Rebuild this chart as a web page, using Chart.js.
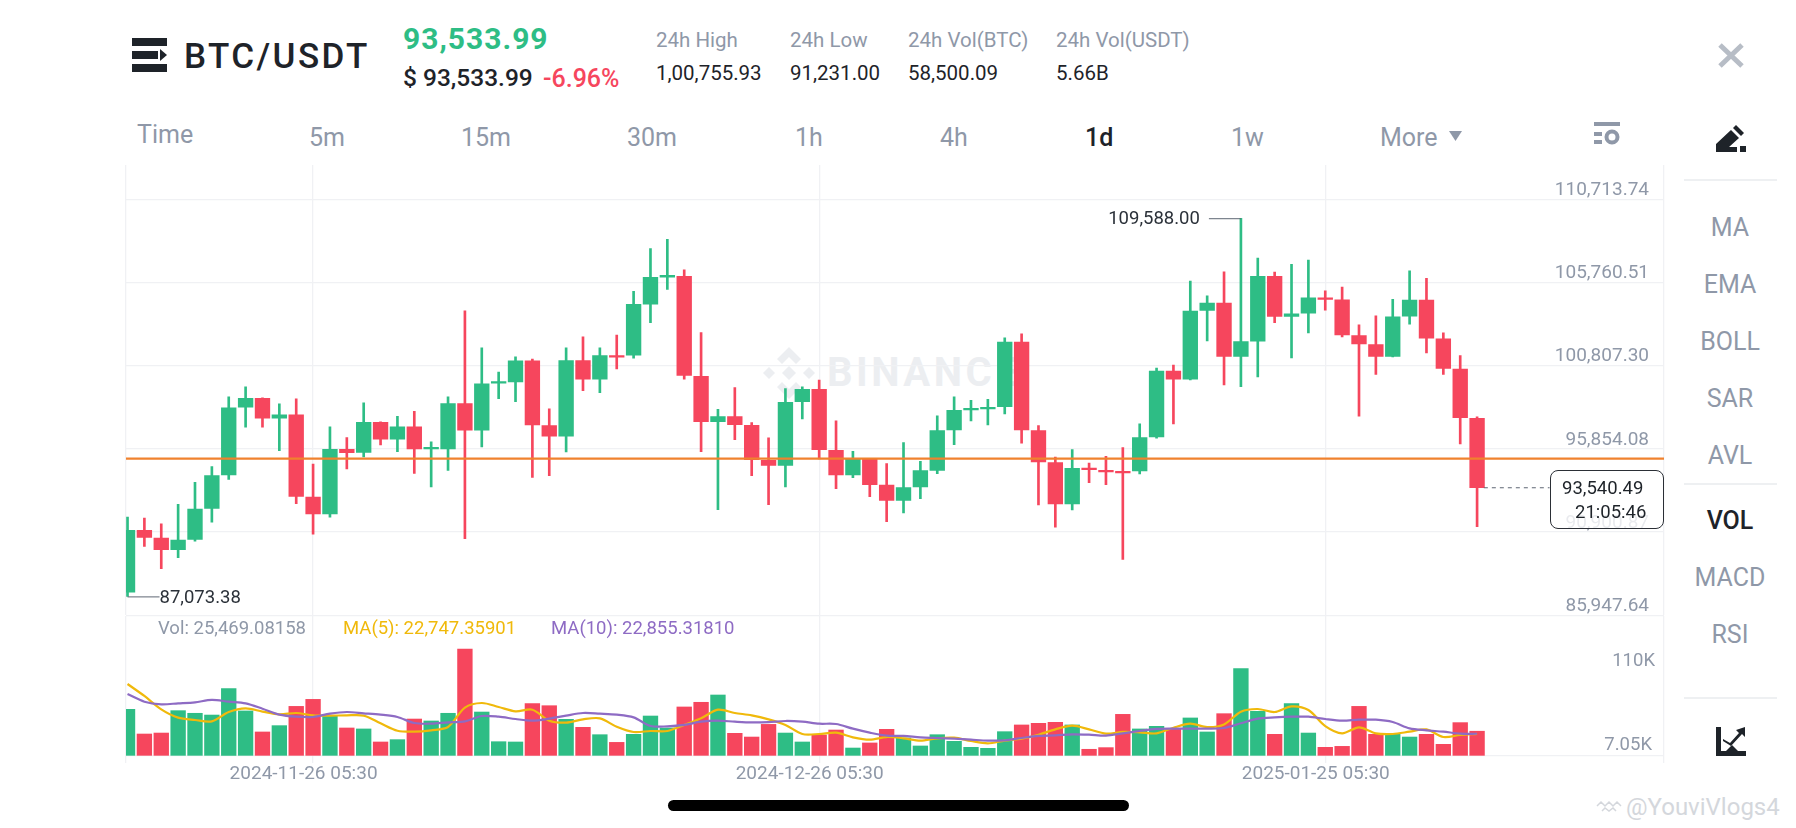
<!DOCTYPE html>
<html>
<head>
<meta charset="utf-8">
<title>BTC/USDT</title>
<script src="https://cdn.jsdelivr.net/npm/chart.js@4"></script>
<style>
  html, body { margin: 0; background: #fff; width: 1796px; height: 828px; overflow: hidden; font-family: Roboto, sans-serif; }
  .t { position: absolute; transform: translateY(-50%); white-space: nowrap; line-height: 1; }
  .g { color: #8f98a8; }
  .d { color: #1e2329; }
  .tf { font-size: 25px; color: #8f98a8; top: 137px; }
  .side { font-size: 25px; color: #8f98a8; left: 1730px; transform: translate(-50%, -50%); }
  .hr { position: absolute; left: 1684px; width: 93px; height: 2px; background: #eef0f2; }
  .lg { font-size: 18.500px; top: 628px; }
  .stat { font-size: 20.5px; }
  canvas { position: absolute; }
  #priceBox { position: absolute; left: 1550px; top: 470px; width: 112px; height: 57px; border: 1.5px solid #2b2f36; border-radius: 8px; background: rgba(255,255,255,.8); color: #1e2329; font-size: 18.500px; }
</style>
</head>
<body>

<!-- header -->
<svg style="position:absolute;left:132px;top:38px" width="36" height="34" viewBox="0 0 36 34" fill="#1e2329">
  <rect x="0" y="0" width="35" height="8"/><rect x="0" y="13" width="26" height="8"/><path d="M28 11l7 6-7 6z"/><rect x="0" y="26" width="35" height="8"/>
</svg>
<div class="t d" style="left:184px;top:56px;font-size:35px;font-weight:500;letter-spacing:2.4px">BTC/USDT</div>
<div class="t" style="left:403px;top:39px;font-size:30px;font-weight:700;color:#2ebd85;letter-spacing:1px">93,533.99</div>
<div class="t d" style="left:403px;top:78px;font-size:24.5px;font-weight:500">$ 93,533.99</div>
<div class="t" style="left:543px;top:78px;font-size:25px;font-weight:500;color:#f6465d">-6.96%</div>

<div class="t g stat" style="left:656px;top:40px">24h High</div>
<div class="t d stat" style="left:656px;top:73px">1,00,755.93</div>
<div class="t g stat" style="left:790px;top:40px">24h Low</div>
<div class="t d stat" style="left:790px;top:73px">91,231.00</div>
<div class="t g stat" style="left:908px;top:40px">24h Vol(BTC)</div>
<div class="t d stat" style="left:908px;top:73px">58,500.09</div>
<div class="t g stat" style="left:1056px;top:40px">24h Vol(USDT)</div>
<div class="t d stat" style="left:1056px;top:73px">5.66B</div>

<svg style="position:absolute;left:1717px;top:42px" width="28" height="27" viewBox="0 0 28 27"><path d="M3 3l22 21M25 3L3 24" stroke="#b7bdc6" stroke-width="5" fill="none"/></svg>

<!-- timeframe row -->
<div class="t tf" style="left:137px;top:134px">Time</div>
<div class="t tf" style="left:309px">5m</div>
<div class="t tf" style="left:461px">15m</div>
<div class="t tf" style="left:627px">30m</div>
<div class="t tf" style="left:795px">1h</div>
<div class="t tf" style="left:940px">4h</div>
<div class="t tf" style="left:1085px;color:#1e2329;font-weight:500">1d</div>
<div class="t tf" style="left:1231px">1w</div>
<div class="t tf" style="left:1380px">More</div>
<svg style="position:absolute;left:1449px;top:131px" width="13" height="10"><path d="M0 0h13L6.500 10z" fill="#8f98a8"/></svg>
<svg style="position:absolute;left:1594px;top:122px" width="26" height="24" viewBox="0 0 26 24" fill="#8f98a8">
  <rect width="26" height="4"/><rect y="10" width="8" height="4"/><rect y="18" width="8" height="4"/>
  <circle cx="18" cy="15" r="5.500" fill="none" stroke="#8f98a8" stroke-width="4"/>
</svg>

<!-- right tool column -->
<svg style="position:absolute;left:1716px;top:125px" width="30" height="27" viewBox="0 0 30 27" fill="#1e2329">
  <path d="M0 27V19L15 5l8 8-10 9h8v5z"/><path d="M17 3l3-3 8 8-3 3z"/><rect x="24" y="21" width="6" height="6"/>
</svg>
<div class="hr" style="top:179px"></div>
<div class="t side" style="top:227px">MA</div>
<div class="t side" style="top:284px">EMA</div>
<div class="t side" style="top:341px">BOLL</div>
<div class="t side" style="top:398px">SAR</div>
<div class="t side" style="top:455px">AVL</div>
<div class="hr" style="top:483px"></div>
<div class="t side" style="top:520px;color:#1e2329;font-weight:500">VOL</div>
<div class="t side" style="top:577px">MACD</div>
<div class="t side" style="top:634px">RSI</div>
<div class="hr" style="top:697px"></div>
<svg style="position:absolute;left:1716px;top:727px" width="30" height="29" viewBox="0 0 30 29" fill="#1e2329">
  <path d="M0 0h5v24h25v5H0z"/><path d="M7 12l7 4 9-10-3-3 9-3v10l-3-3-11 12-8-5z"/><path d="M10 24l6-6 6 6z"/>
</svg>

<!-- watermark, sits under the canvas -->
<svg style="position:absolute;left:763px;top:347px" width="52" height="52" viewBox="0 0 52 52" fill="#eceef1">
  <path d="M26 0l12 12-5 5-7-7-7 7-5-5z"/><path d="M26 52L14 40l5-5 7 7 7-7 5 5z"/>
  <path d="M0 26l6-6 6 6-6 6z"/><path d="M40 26l6-6 6 6-6 6z"/><path d="M26 19l7 7-7 7-7-7z"/>
</svg>
<div class="t" style="left:827px;top:373px;font-size:40px;font-weight:700;color:#eceef1;letter-spacing:3.500px">BINANCE</div>

<canvas id="priceChart" width="1552" height="460" style="left:120px;top:160px;width:1552px;height:460px"></canvas>
<canvas id="volChart" width="1552" height="175" style="left:120px;top:610px;width:1552px;height:175px"></canvas>

<div class="t lg g" style="left:158px">Vol: 25,469.08158</div>
<div class="t lg" style="left:343px;color:#f0b90b">MA(5): 22,747.35901</div>
<div class="t lg" style="left:551px;color:#8e6bc4">MA(10): 22,855.31810</div>

<div id="priceBox">
  <div class="t" style="left:11px;top:17px">93,540.49</div>
  <div class="t" style="left:24px;top:41px">21:05:46</div>
</div>

<!-- phone home bar and repost mark -->
<div style="position:absolute;left:668px;top:800px;width:461px;height:11px;border-radius:6px;background:#000"></div>
<svg style="position:absolute;left:1596px;top:798px" width="26" height="16" viewBox="0 0 26 16"><path d="M1 8l4-4 4 4 4-4 4 4 4-4 4 4M6 13l3-3 4 3 4-3 3 3" stroke="#d4d7dc" stroke-width="1.500" fill="none"/></svg>
<div class="t" style="left:1626px;top:807px;font-size:24px;color:#d4d7dc">@YouviVlogs4</div>

<script>
// one entry per daily candle
const dates = [
  '2024-11-15','2024-11-16','2024-11-17','2024-11-18','2024-11-19','2024-11-20','2024-11-21','2024-11-22','2024-11-23','2024-11-24',
  '2024-11-25','2024-11-26','2024-11-27','2024-11-28','2024-11-29','2024-11-30','2024-12-01','2024-12-02','2024-12-03','2024-12-04',
  '2024-12-05','2024-12-06','2024-12-07','2024-12-08','2024-12-09','2024-12-10','2024-12-11','2024-12-12','2024-12-13','2024-12-14',
  '2024-12-15','2024-12-16','2024-12-17','2024-12-18','2024-12-19','2024-12-20','2024-12-21','2024-12-22','2024-12-23','2024-12-24',
  '2024-12-25','2024-12-26','2024-12-27','2024-12-28','2024-12-29','2024-12-30','2024-12-31','2025-01-01','2025-01-02','2025-01-03',
  '2025-01-04','2025-01-05','2025-01-06','2025-01-07','2025-01-08','2025-01-09','2025-01-10','2025-01-11','2025-01-12','2025-01-13',
  '2025-01-14','2025-01-15','2025-01-16','2025-01-17','2025-01-18','2025-01-19','2025-01-20','2025-01-21','2025-01-22','2025-01-23',
  '2025-01-24','2025-01-25','2025-01-26','2025-01-27','2025-01-28','2025-01-29','2025-01-30','2025-01-31','2025-02-01','2025-02-02',
  '2025-02-03'
];
const opens = [
  87326,91002,90545,89850,90466,92314,94301,98334,98871,97679,
  97877,92989,91976,95831,95652,97440,96427,97162,95851,95851,
  98553,96963,99765,99845,101096,97242,96606,101116,100004,101414,
  101434,104474,106084,106123,100182,97480,97778,97261,95175,94877,
  98672,99407,95771,94301,95255,93705,92791,93585,94579,96983,
  98175,98235,98374,102209,96944,95036,92572,94718,94579,94519,
  94539,96566,100480,100004,104097,104534,101355,102269,106123,103739,
  103938,104852,104733,102606,102070,101355,103759,104713,102408,100600,
  97679
];
const closes = [
  91002,90585,89850,90426,92274,94261,98295,98871,97679,97877,
  93029,91976,95831,95632,97440,96427,97162,95851,95950,98553,
  96963,99725,99864,101096,97281,96606,101116,100004,101414,101315,
  104454,106064,106183,100222,97480,97778,97301,95215,94877,98632,
  99407,95811,94301,95255,93725,92791,93546,94559,96944,98156,
  98275,98334,102209,96983,95076,92572,94698,94619,94480,94420,
  96526,100480,100004,104057,104534,101355,102249,106123,103739,103898,
  104852,104752,102646,102110,101355,103719,104713,102448,100639,97718,
  93540.49
];
const highs = [
  91797,91738,91400,92552,93864,94798,98950,99546,98900,98533,
  98831,94957,97162,96526,98593,97470,97798,98096,96268,98950,
  104077,101871,100421,101335,101196,98235,101871,102527,101871,102626,
  105229,107773,108329,106521,102785,98215,99507,97420,96506,99447,
  99546,99944,97520,95712,95295,94976,96228,95115,97818,98950,
  98752,98811,102467,102706,97242,95374,95811,95016,95414,95930,
  97341,100659,100838,105845,104971,106402,109588,107216,106382,106839,
  107097,105269,105488,103242,103779,104752,106461,106004,102765,101414,
  97758
];
const lows = [
  87073.38,90049,88717,89373,90367,91499,94043,97142,97142,95751,
  92592,90784,91797,94658,95374,96089,95692,94400,93585,94579,
  90506,95970,98851,98672,94162,94261,95672,99328,99209,100619,
  101255,103362,105349,100004,95692,92234,96407,94261,92532,93585,
  97639,95255,93486,94142,93009,91519,92036,92890,94380,96109,
  97520,97281,97937,96188,92513,91201,92214,93844,93725,89274,
  94360,96487,97341,99964,102289,99666,99566,100143,103362,101275,
  102765,104117,102527,97798,100282,101335,103282,101573,100282,96149,
  91231
];
const volumes = [
  48000,22600,23600,46600,43900,42100,69200,46300,24700,31200,
  51000,58200,41100,28800,27800,14400,16800,38000,36000,43900,
  110000,45200,14700,14400,53800,51700,37700,29500,21900,14000,
  22300,41100,28800,50400,55200,62700,23300,19500,32500,23600,
  14400,21600,26700,8200,13400,27400,18500,10300,21900,15100,
  8900,7900,25000,31900,33600,34600,31900,6900,8600,42800,
  27800,30500,28400,39100,24700,43500,89800,45900,22300,53800,
  23600,8900,9900,51000,22300,23300,19500,22300,12000,34300,
  25469.08
];
const ma5 = [
  74000,61700,48000,39400,37000,35600,45200,49000,45600,42800,
  44200,41800,41500,41800,41500,33600,26000,25000,26400,29800,
  49700,54500,50400,45900,47600,36300,34300,37700,38700,30100,
  24700,25700,25700,31900,38700,47600,44200,41800,37700,31900,
  22600,22600,24000,19200,16800,19500,18200,15800,18200,18800,
  15400,13000,15800,17800,21900,27400,31200,27400,23000,24700,
  24300,23300,29100,33200,29800,32500,45600,48300,45200,51000,
  47300,30800,23300,29500,23300,22600,25000,27400,19500,21600,
  22747.36
];
const ma10 = [
  63700,55800,53100,54100,55200,57600,55800,54100,48600,42500,
  40400,40100,43500,45200,43900,42500,40100,33900,33200,34600,
  35600,41100,40400,38000,36300,38400,41500,44200,43500,42500,
  39700,30800,30500,31900,35300,36300,35300,34600,34900,36000,
  35300,33200,32900,28100,24000,20900,20600,19200,18500,17800,
  16800,15800,16100,18500,20600,21200,22300,21900,20900,23300,
  25700,27800,28100,28100,28100,28800,33600,38400,39700,40400,
  40400,38000,36300,37300,37300,34900,28400,26400,25000,23000,
  22855.32
];

// axis ticks
const yTickValues = [110713.74, 105760.51, 100807.30, 95854.08, 90900.87, 85947.64];
const yTickLabels = ['110,713.74', '105,760.51', '100,807.30', '95,854.08', '90,900.87', '85,947.64'];
const dateTickIndex = [dates.indexOf('2024-11-26'), dates.indexOf('2024-12-26'), dates.indexOf('2025-01-25')];
const dateTickLabels = ['2024-11-26 05:30', '2024-12-26 05:30', '2025-01-25 05:30'];
const volTickValues = [110000, 7050];
const volTickLabels = ['110K', '7.05K'];

// reference lines and high/low markers
const orangeLevel = 95274;
const lastPrice = 93540.49;
const lastPriceEnd = 84.3;
const highMark = { index: 66, price: 109588.00, label: '109,588.00' };
const lowMark = { index: 0, price: 87073.38, label: '87,073.38' };

const GREEN = '#2ebd85', RED = '#f6465d', GRID = '#f0f1f4', AXIS = '#8f98a8';
const xMin = -0.09, xMax = 91.08;
const up = i => closes[i] >= opens[i];
const barColor = ctx => up(ctx.dataIndex) ? GREEN : RED;

function dateGrid(scale) {
  scale.ticks = [xMin, ...dateTickIndex, xMax].map(v => ({ value: v }));
}
function dateLabel(v) {
  const k = dateTickIndex.indexOf(v);
  return k < 0 ? '' : dateTickLabels[k];
}

const markers = {
  id: 'markers',
  afterDatasetsDraw(chart) {
    const { ctx, scales: { x, y } } = chart;
    ctx.save();
    ctx.font = '18.5px Roboto';
    ctx.textBaseline = 'middle';
    // low: line runs right from the wick
    let px = x.getPixelForValue(lowMark.index), py = y.getPixelForValue(lowMark.price);
    ctx.strokeStyle = '#5e6673';
    ctx.lineWidth = 1;
    ctx.beginPath(); ctx.moveTo(px, py + .5); ctx.lineTo(px + 32, py + .5); ctx.stroke();
    ctx.fillStyle = '#2b3139';
    ctx.textAlign = 'left';
    ctx.fillText(lowMark.label, px + 32, py + 2);
    // high: line runs left from the wick
    px = x.getPixelForValue(highMark.index); py = y.getPixelForValue(highMark.price);
    ctx.strokeStyle = '#5e6673';
    ctx.beginPath(); ctx.moveTo(px, py + .5); ctx.lineTo(px - 32, py + .5); ctx.stroke();
    ctx.textAlign = 'right';
    ctx.fillText(highMark.label, px - 41, py + 1);
    ctx.restore();
  }
};

new Chart(document.getElementById('priceChart'), {
  type: 'bar',
  data: {
    datasets: [
      { type: 'line', data: [{ x: xMin, y: orangeLevel }, { x: xMax, y: orangeLevel }], borderColor: '#f0822e', borderWidth: 2.4, pointRadius: 0, order: 0 },
      { type: 'line', data: [{ x: dates.length - 0.6, y: lastPrice }, { x: lastPriceEnd, y: lastPrice }], borderColor: '#5e6673', borderWidth: 1, borderDash: [4, 4], pointRadius: 0, order: 0 },
      { data: dates.map((d, i) => ({ x: i, y: [lows[i], highs[i]] })), backgroundColor: barColor, barThickness: 2, grouped: false, order: 2 },
      { data: dates.map((d, i) => ({ x: i, y: [opens[i], closes[i]] })), backgroundColor: barColor, barThickness: 14.7, grouped: false, order: 1 }
    ]
  },
  options: {
    responsive: false,
    animation: false,
    layout: { padding: { left: 6, right: 8, top: 5, bottom: 4.7 } },
    plugins: { legend: { display: false }, tooltip: { enabled: false } },
    scales: {
      x: {
        type: 'linear', min: xMin, max: xMax, offset: false,
        afterBuildTicks: dateGrid,
        afterFit: s => { s.height = 0; },
        grid: { color: GRID, lineWidth: 1.300, drawTicks: false, offset: false },
        border: { display: false },
        ticks: { display: false }
      },
      y: {
        position: 'right', min: 85947.64, max: 112756,
        afterBuildTicks: s => { s.ticks = yTickValues.map(v => ({ value: v })); },
        afterFit: s => { s.width = 0; s.paddingTop = 0; s.paddingBottom = 0; },
        grid: { color: GRID, lineWidth: 1.300, drawTicks: false },
        border: { display: false },
        ticks: {
          mirror: true, padding: -15, labelOffset: -9, color: AXIS, autoSkip: false,
          font: { family: 'Roboto', size: 19 },
          callback: (v, i) => yTickLabels[i]
        }
      }
    }
  },
  plugins: [markers]
});

const volLabels = {
  id: 'volLabels',
  afterDraw(chart) {
    const { ctx, scales: { y }, chartArea } = chart;
    ctx.save();
    ctx.font = '18.5px Roboto';
    ctx.fillStyle = AXIS;
    ctx.textAlign = 'right';
    ctx.textBaseline = 'middle';
    // the 110K label hangs under its level, 7.05K sits over it
    ctx.fillText(volTickLabels[0], chartArea.right - 9, y.getPixelForValue(volTickValues[0]) + 12);
    ctx.fillText(volTickLabels[1], chartArea.right - 12, y.getPixelForValue(volTickValues[1]) - 4);
    ctx.restore();
  }
};

new Chart(document.getElementById('volChart'), {
  type: 'bar',
  data: {
    datasets: [
      { type: 'line', data: dates.map((d, i) => ({ x: i, y: ma5[i] })), borderColor: '#f0b90b', borderWidth: 2.2, pointRadius: 0, tension: 0.3, order: 1 },
      { type: 'line', data: dates.map((d, i) => ({ x: i, y: ma10[i] })), borderColor: '#8e6bc4', borderWidth: 2.2, pointRadius: 0, tension: 0.3, order: 0 },
      { data: dates.map((d, i) => ({ x: i, y: volumes[i] })), backgroundColor: barColor, barThickness: 14.7, order: 2 }
    ]
  },
  options: {
    responsive: false,
    animation: false,
    layout: { padding: { left: 6, right: 8, top: 6, bottom: 0 } },
    plugins: { legend: { display: false }, tooltip: { enabled: false } },
    scales: {
      x: {
        type: 'linear', min: xMin, max: xMax, offset: false,
        afterBuildTicks: dateGrid,
        afterFit: s => { s.height = 29; },
        grid: { color: GRID, lineWidth: 1.300, tickColor: GRID, tickLength: 7, offset: false },
        border: { display: false },
        ticks: {
          color: AXIS, padding: 0, labelOffset: -9.500, autoSkip: false, maxRotation: 0,
          font: { family: 'Roboto', size: 19 },
          callback: dateLabel
        }
      },
      y: {
        position: 'right', min: 0, max: 143900,
        afterBuildTicks: s => { s.ticks = [{ value: 0 }]; },
        afterFit: s => { s.width = 0; },
        grid: { color: GRID, lineWidth: 1.300, drawTicks: false },
        border: { display: false },
        ticks: { display: false }
      }
    }
  },
  plugins: [volLabels]
});
</script>
</body>
</html>
